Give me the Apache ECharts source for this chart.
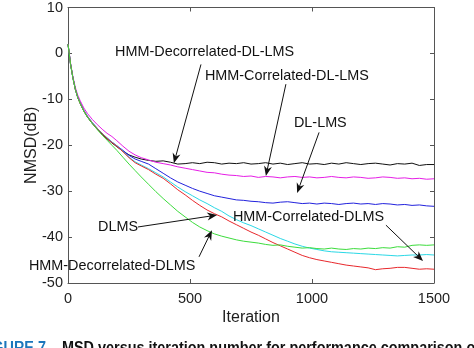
<!DOCTYPE html>
<html>
<head>
<meta charset="utf-8">
<script src="https://cdn.jsdelivr.net/npm/echarts@6/dist/echarts.min.js"></script>
<style>
html,body{margin:0;padding:0;background:#fff;}
#chart{width:474px;height:348px;}
</style>
</head>
<body>
<div id="chart"></div>
<script>
// ---------- data ----------
const iterations = [0,5,10,20,30,40,50,65,80,100,120,140,160,180,200,225,250,275,300,330,360,390,420,450,480,510,540,570,600,630,660,690,720,750,780,810,840,870,900,930,960,990,1020,1050,1080,1110,1140,1170,1200,1230,1260,1290,1320,1350,1380,1410,1440,1470,1500];

const hmmDecorrelatedDLLMS = [2,0,-2.2,-5.3,-7.8,-9.6,-10.9,-12.6,-13.9,-15.3,-16.5,-17.6,-18.6,-19.5,-20.3,-21.3,-22.1,-22.6,-23.0,-23.3,-23.5,-23.4,-23.7,-24.1,-24.0,-23.8,-24.0,-23.7,-23.8,-24.1,-23.9,-24.0,-23.8,-24.1,-24.0,-23.8,-24.1,-23.9,-24.2,-24.0,-23.8,-24.1,-24.0,-24.2,-23.9,-24.1,-23.8,-24.0,-24.2,-24.0,-23.9,-24.1,-24.3,-24.0,-24.1,-23.9,-24.4,-24.2,-24.2];

const hmmCorrelatedDLLMS = [2,0.2,-2,-5,-7.4,-9.1,-10.3,-11.9,-13.1,-14.4,-15.5,-16.5,-17.4,-18.1,-19.0,-20.2,-21.3,-22.1,-22.7,-23.2,-23.7,-24.0,-24.3,-24.7,-25.0,-25.3,-25.6,-25.9,-26.0,-26.3,-26.5,-26.6,-26.8,-26.7,-27.0,-26.8,-26.9,-27.1,-26.9,-26.8,-27.0,-26.9,-27.1,-27.0,-26.8,-27.0,-27.1,-26.9,-27.0,-27.2,-27.1,-26.9,-27.0,-27.2,-27.1,-27.3,-27.2,-27.4,-27.3];

const dlLMS = [2,0,-2.2,-5.3,-7.8,-9.6,-10.8,-12.4,-13.7,-15.1,-16.3,-17.4,-18.4,-19.3,-20.1,-21.1,-22.2,-23.0,-23.5,-24.1,-25.1,-26.1,-27.1,-28.0,-28.7,-29.4,-30.0,-30.5,-31.0,-31.3,-31.6,-31.9,-32.0,-32.2,-32.3,-32.5,-32.6,-32.4,-32.3,-32.5,-32.7,-32.6,-32.8,-32.6,-32.7,-32.9,-32.7,-32.6,-32.8,-32.7,-32.9,-32.7,-32.8,-33.0,-32.9,-33.1,-33.0,-33.2,-33.3];

const dlms = [2,0,-2.2,-5.3,-7.8,-9.6,-10.9,-12.5,-13.8,-15.2,-16.4,-17.5,-18.5,-19.4,-20.2,-21.4,-22.7,-23.8,-24.5,-25.3,-26.3,-27.2,-28.4,-29.7,-30.8,-32.0,-33.1,-34.1,-34.9,-35.6,-36.5,-37.3,-38.1,-38.9,-39.6,-40.4,-41.2,-41.9,-42.6,-43.3,-44.0,-44.5,-44.9,-45.2,-45.5,-45.8,-46.1,-46.3,-46.5,-46.7,-47.1,-46.9,-46.8,-46.6,-46.6,-46.8,-47.0,-46.9,-47.0];

const hmmCorrelatedDLMS = [2,0,-2.2,-5.3,-7.8,-9.6,-10.8,-12.4,-13.7,-15.1,-16.3,-17.4,-18.4,-19.3,-20.1,-21.3,-22.6,-23.6,-24.3,-25.1,-26.0,-26.9,-28.0,-29.1,-30.1,-31.0,-31.9,-32.7,-33.6,-34.4,-35.4,-36.2,-36.9,-37.5,-38.2,-38.9,-39.6,-40.3,-40.9,-41.5,-42.0,-42.4,-42.7,-43.0,-43.2,-43.3,-43.4,-43.5,-43.6,-43.7,-43.8,-43.9,-44.0,-44.1,-44.0,-43.9,-43.9,-43.8,-43.9];

const hmmDecorrelatedDLMS = [2,0,-2.2,-5.3,-7.8,-9.6,-10.9,-12.6,-13.9,-15.3,-16.6,-17.8,-18.9,-20.0,-21.1,-22.6,-24.1,-25.5,-26.9,-28.5,-30.1,-31.6,-33.0,-34.4,-35.6,-36.8,-37.8,-38.6,-39.3,-39.8,-40.2,-40.6,-40.9,-41.1,-41.3,-41.6,-41.8,-41.7,-42.0,-42.2,-42.4,-42.3,-42.5,-42.6,-42.4,-42.6,-42.7,-42.5,-42.6,-42.4,-42.5,-42.3,-42.4,-42.1,-42.2,-41.8,-41.7,-41.8,-41.7];

const xTicks = [0, 500, 1000, 1500];
const yTicks = [-50, -40, -30, -20, -10, 0, 10];

// ---------- annotations (data coordinates) ----------
const annotations = [
  {text:'HMM-Decorrelated-DL-LMS', at:[193, 0.4],   from:[545, -2.4],  to:[434, -23.9]},
  {text:'HMM-Correlated-DL-LMS',   at:[561, -5.0],  from:[893, -6.7],  to:[811, -26.7]},
  {text:'DL-LMS',                  at:[926, -15.2], from:[1029, -17.2],to:[939, -30.4]},
  {text:'DLMS',                    at:[123, -37.8], from:[287, -37.8], to:[611, -35.2]},
  {text:'HMM-Decorrelated-DLMS',   at:[-160, -46.3],from:[537, -44.3], to:[590, -38.5]},
  {text:'HMM-Correlated-DLMS',     at:[676, -35.7], from:[1303, -37.4],to:[1455, -45.2]}
];

const seriesDefs = [
  {name:'HMM-Decorrelated-DL-LMS', data:hmmDecorrelatedDLLMS, color:'#111111'},
  {name:'HMM-Correlated-DL-LMS',   data:hmmCorrelatedDLLMS,   color:'#e61ee6'},
  {name:'DL-LMS',                  data:dlLMS,                color:'#2222dd'},
  {name:'HMM-Correlated-DLMS',     data:hmmCorrelatedDLMS,    color:'#2ad8e6'},
  {name:'DLMS',                    data:dlms,                 color:'#e8282c'},
  {name:'HMM-Decorrelated-DLMS',   data:hmmDecorrelatedDLMS,  color:'#3cdc3c'}
];

const FONT = '"Liberation Sans", Arial, Helvetica, sans-serif';
const AX = '#555555';
const TXT = '#1e1e1e';

const chart = echarts.init(document.getElementById('chart'), null, {renderer:'canvas'});

const baseAxis = {
  axisLine:{show:true, onZero:false, lineStyle:{color:AX, width:1}},
  axisTick:{show:true, inside:true, length:4, lineStyle:{color:AX}},
  splitLine:{show:false}
};

const option = {
  animation:false,
  backgroundColor:'#ffffff',
  grid:{left:68, right:40, top:7, bottom:65, containLabel:false},
  xAxis:[
    Object.assign({}, baseAxis, {
      type:'value', min:0, max:1500, interval:500, position:'bottom',
      axisLabel:{show:true, fontSize:14.5, color:TXT, fontFamily:FONT, margin:8,
        formatter:v => xTicks.includes(v) ? String(v) : ''},
      name:'Iteration', nameLocation:'middle', nameGap:27, nameMoveOverlap:false,
      nameTextStyle:{fontSize:16, color:TXT, fontFamily:FONT}
    }),
    Object.assign({}, baseAxis, {
      type:'value', min:0, max:1500, interval:500, position:'top',
      axisLabel:{show:false}
    })
  ],
  yAxis:[
    Object.assign({}, baseAxis, {
      type:'value', min:-50, max:10, interval:10, position:'left',
      axisLabel:{show:true, fontSize:14.5, color:TXT, fontFamily:FONT, margin:5,
        formatter:v => yTicks.includes(v) ? String(v) : ''},
      name:'NMSD(dB)', nameLocation:'middle', nameGap:28, nameRotate:90, nameMoveOverlap:false,
      nameTextStyle:{fontSize:16, color:TXT, fontFamily:FONT}
    }),
    Object.assign({}, baseAxis, {
      type:'value', min:-50, max:10, interval:10, position:'right',
      axisLabel:{show:false}
    })
  ],
  series: seriesDefs.map(s => ({
    name:s.name, type:'line', xAxisIndex:0, yAxisIndex:0,
    showSymbol:false, symbol:'none', smooth:false,
    lineStyle:{color:s.color, width:1},
    itemStyle:{color:s.color},
    data: iterations.map((x,i) => [x, s.data[i]])
  }))
};
chart.setOption(option);

// ---------- annotation graphics through the axes ----------
const toPx = p => chart.convertToPixel({xAxisIndex:0, yAxisIndex:0}, p);
const elems = [];
annotations.forEach(a => {
  const t = toPx(a.at), f = toPx(a.from), e = toPx(a.to);
  elems.push({type:'text', x:t[0], y:t[1], z:100,
    style:{text:a.text, fill:'#111', font:'14.4px ' + FONT, verticalAlign:'middle', align:'left'}});
  const dx = e[0]-f[0], dy = e[1]-f[1], L = Math.hypot(dx,dy);
  const ux = dx/L, uy = dy/L, nx = -uy, ny = ux;
  const hl = 10, hw = 4;
  const bx = e[0]-ux*hl, by = e[1]-uy*hl;
  elems.push({type:'line', z:100, shape:{x1:f[0], y1:f[1], x2:e[0]-ux*hl*0.6, y2:e[1]-uy*hl*0.6},
    style:{stroke:'#111', lineWidth:1}});
  elems.push({type:'polygon', z:100, shape:{points:[
      [e[0], e[1]], [bx+nx*hw, by+ny*hw], [e[0]-ux*hl*0.7, e[1]-uy*hl*0.7], [bx-nx*hw, by-ny*hw]]},
    style:{fill:'#111'}});
});

// caption (cropped at the bottom of the picture), squeezed to a condensed width
const capFont = 'bold 16px ' + FONT;
const ctx = document.createElement('canvas').getContext('2d');
ctx.font = capFont;
const capText = 'MSD versus iteration number for performance comparison of';
const capScale = 418 / ctx.measureText(capText).width;
elems.push({type:'text', x:50, y:341, z:100, scaleX:capScale,
  style:{text:'FIGURE 7.', fill:'#1b76bc', font:capFont, align:'right', verticalAlign:'top'}});
elems.push({type:'text', x:62, y:341, z:100, scaleX:capScale,
  style:{text:capText, fill:'#111', font:capFont, align:'left', verticalAlign:'top'}});
chart.setOption({graphic:{elements:elems}});
</script>
</body>
</html>
